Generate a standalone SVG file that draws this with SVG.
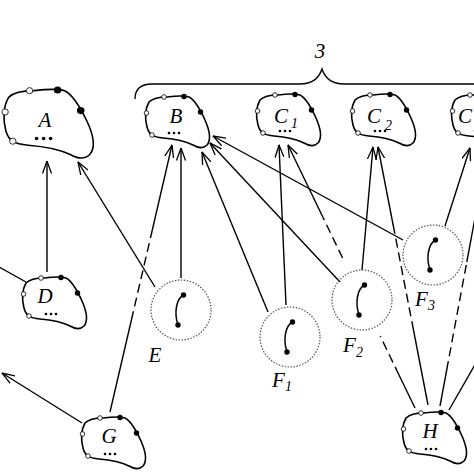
<svg xmlns="http://www.w3.org/2000/svg" width="474" height="474" viewBox="0 0 474 474">
<style>
.lbl{font-family:"Liberation Serif","Times New Roman",serif;font-style:italic;font-size:21px;fill:#000}
.sub{font-family:"Liberation Serif","Times New Roman",serif;font-style:italic;font-size:14px;fill:#000}
.blob{fill:none;stroke:#000;stroke-width:1.6;vector-effect:non-scaling-stroke}
.op{fill:#fff;stroke:#000;stroke-width:0.8;vector-effect:non-scaling-stroke}
.fd{fill:#000}
.ring{fill:none;stroke:#555;stroke-width:1.2;stroke-dasharray:1.5 1.5}
.dash{stroke-dasharray:9 5}
</style>
<defs>
<marker id="arr" markerUnits="userSpaceOnUse" markerWidth="13" markerHeight="10" viewBox="0 0 13 10" refX="12.5" refY="5" orient="auto">
<path d="M0,0.5 L12.5,5 L0,9.5" fill="none" stroke="#000" stroke-width="1.3"/>
</marker>
<g id="blobShape">
<path class="blob" d="M4,7 C8,3 14,2 22,2 C30,1 38,0 44,2 C50,5 55,14 60,25 C64,34 67,44 62,50 C58,54 53,53 48,50 C40,46 30,44 18,43 C8,42 4,40 2,32 C0,24 0,14 4,7 Z"/>
<circle class="op" cx="19" cy="2" r="2.3"/>
<circle class="op" cx="1.5" cy="18" r="2.3"/>
<circle class="op" cx="7" cy="40" r="2.3"/>
<circle class="fd" cx="39" cy="1.5" r="2.7"/>
<circle class="fd" cx="55.5" cy="17" r="2.7"/>
<circle class="fd" cx="24" cy="38" r="1.3"/>
<circle class="fd" cx="29" cy="38" r="1.3"/>
<circle class="fd" cx="34" cy="38" r="1.3"/>
</g>
<g id="rotor">
<circle class="ring" cx="0" cy="0" r="30"/>
<path d="M2.5,-15 C-5,-11 -7,3 -3,15" fill="none" stroke="#000" stroke-width="1.5"/>
<circle class="fd" cx="2.5" cy="-15" r="2.7"/>
<circle class="fd" cx="-3" cy="15" r="2.7"/>
</g>
</defs>

<g id="connectors" fill="none" stroke="#000" stroke-width="1.4">
<line x1="47" y1="272" x2="47" y2="161" marker-end="url(#arr)"/>
<line x1="155" y1="287" x2="78" y2="162" marker-end="url(#arr)"/>
<line x1="110" y1="412" x2="131.4" y2="320"/>
<line class="dash" x1="131.4" y1="320" x2="152.3" y2="230"/>
<line x1="152.3" y1="230" x2="172" y2="145" marker-end="url(#arr)"/>
<line x1="181" y1="278" x2="181" y2="148" marker-end="url(#arr)"/>
<line x1="268" y1="312" x2="202" y2="152" marker-end="url(#arr)"/>
<line x1="340" y1="282" x2="210" y2="143" marker-end="url(#arr)"/>
<line x1="403" y1="240" x2="213" y2="136" marker-end="url(#arr)"/>
<line x1="286" y1="305" x2="279" y2="145" marker-end="url(#arr)"/>
<line x1="415" y1="408" x2="399" y2="375"/>
<line class="dash" x1="399" y1="375" x2="380.2" y2="336"/>
<line class="dash" x1="342.6" y1="258" x2="322.8" y2="217"/>
<line x1="322.8" y1="217" x2="288" y2="145" marker-end="url(#arr)"/>
<line x1="362" y1="270" x2="373" y2="147" marker-end="url(#arr)"/>
<line x1="428" y1="405" x2="413.5" y2="330"/>
<line class="dash" x1="413.5" y1="330" x2="394.5" y2="232"/>
<line x1="394.5" y1="232" x2="378" y2="147" marker-end="url(#arr)"/>
<line x1="445" y1="226" x2="470" y2="148" marker-end="url(#arr)"/>
<line x1="440" y1="406" x2="446.7" y2="370"/>
<line class="dash" x1="446.7" y1="370" x2="466.8" y2="262"/>
<line x1="466.8" y1="262" x2="488" y2="148"/>
<line x1="449" y1="410" x2="492" y2="335"/>
<line x1="82" y1="423" x2="2" y2="373" marker-end="url(#arr)"/>
<line x1="26" y1="282" x2="-10" y2="262"/>
</g>

<g id="brace">
<path d="M135,99 C135,89 140,84 152,84 L300,84 C312,84 319,78 322,69 C325,78 332,84 344,84 L480,84" fill="none" stroke="#000" stroke-width="1.4"/>
<text class="lbl" x="320" y="58" text-anchor="middle">3</text>
</g>

<g id="node-A"><use href="#blobShape" transform="translate(3,88) scale(1.4,1.33)"/><text class="lbl" x="45" y="127" text-anchor="middle">A</text></g>
<g id="node-B"><use href="#blobShape" transform="translate(145,95)"/><text class="lbl" x="176" y="123" text-anchor="middle">B</text></g>
<g id="node-C1"><use href="#blobShape" transform="translate(256,93)"/><text class="lbl" x="274" y="123">C</text><text class="sub" x="291" y="128">1</text></g>
<g id="node-C2"><use href="#blobShape" transform="translate(351,93)"/><text class="lbl" x="367" y="123">C</text><text class="sub" x="385" y="130">2</text></g>
<g id="node-C3"><use href="#blobShape" transform="translate(451,93)"/><text class="lbl" x="458" y="123">C</text></g>
<g id="node-D"><use href="#blobShape" transform="translate(22,276)"/><text class="lbl" x="45" y="303" text-anchor="middle">D</text></g>
<g id="node-G"><use href="#blobShape" transform="translate(81,416)"/><text class="lbl" x="109" y="443" text-anchor="middle">G</text></g>
<g id="node-H"><use href="#blobShape" transform="translate(402,411)"/><text class="lbl" x="430" y="438" text-anchor="middle">H</text></g>
<g id="node-E"><use href="#rotor" transform="translate(181,310)"/><text class="lbl" x="155" y="362" text-anchor="middle">E</text></g>
<g id="node-F1"><use href="#rotor" transform="translate(290,337)"/><text class="lbl" x="272" y="387">F</text><text class="sub" x="285" y="391">1</text></g>
<g id="node-F2"><use href="#rotor" transform="translate(362,300)"/><text class="lbl" x="343" y="352">F</text><text class="sub" x="356" y="357">2</text></g>
<g id="node-F3"><use href="#rotor" transform="translate(433,255)"/><text class="lbl" x="415" y="306">F</text><text class="sub" x="428" y="310">3</text></g>
</svg>
